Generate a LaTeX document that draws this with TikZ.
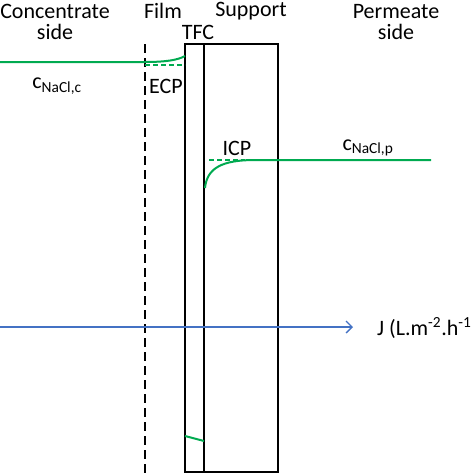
\documentclass[tikz,border=0pt]{standalone}
\usepackage{fontspec}
\setmainfont{Carlito}
\usetikzlibrary{arrows.meta}
\definecolor{lgreen}{RGB}{0,170,80}
\definecolor{lblue}{RGB}{68,114,196}
\tikzset{
  lbl/.style={inner sep=0pt, font=\fontsize{22}{23}\selectfont, align=center},
  wall/.style={draw=black, line width=2pt},
  conc/.style={draw=lgreen, line width=2pt},
  concdash/.style={draw=lgreen, line width=1.2pt, dash pattern=on 5pt off 3pt},
  film/.style={draw=black, line width=2pt, dash pattern=on 9pt off 5pt},
  flux/.style={draw=lblue, line width=1.3pt, -{Straight Barb[length=6pt,width=12pt,line width=1.3pt]}}
}
\begin{document}
\begin{tikzpicture}[x=1pt,y=-1pt]
\useasboundingbox (0,0) rectangle (474,474);
\clip (0,0) rectangle (474,474);
% film boundary
\draw[film] (145,44) -- (145,476);
% membrane boxes
\draw[wall] (185,44) rectangle (278,472);
\draw[wall] (204,44) -- (204,472);
% concentration profiles
\coordinate (cs) at (0,62);
\coordinate (cf) at (145,62);
\coordinate (cm) at (185,56);
\draw[conc] (cs) -- (cf) .. controls (166,62) and (178,60) .. (cm);
\draw[concdash] (145,65) -- (185,65);
\coordinate (ps) at (205,188);
\coordinate (pf) at (255,160);
\coordinate (pe) at (431,160);
\draw[conc] (ps) .. controls (207,168) and (222,160) .. (pf) -- (pe);
\draw[concdash] (209,160) -- (245,160);
\draw[conc] (185,436) -- (204,441);
% flux arrow
\coordinate (fs) at (0,327);
\coordinate (fe) at (353,327);
\draw[flux] (fs) -- (fe);
% labels
\node[lbl] (lconc) at (55,22) {Concentrate\\[-2pt]side};
\node[lbl] (lfilm) at (163,11) {Film};
\node[lbl] (lsup) at (251,11) {Support};
\node[lbl] (lperm) at (396,22) {Permeate\\[-2pt]side};
\node[lbl] (ltfc) at (198,32) {TFC};
\node[lbl] (lecp) at (166,86) {ECP};
\node[lbl] (licp) at (237,148) {ICP};
\node[lbl] (lcc) at (57,86) {c\textsubscript{NaCl,c}};
\node[lbl] (lcp) at (368,148) {c\textsubscript{NaCl,p}};
\node[lbl, anchor=west] (lj) at (377,328) {J (L.m\textsuperscript{-2}.h\textsuperscript{-1}};
\end{tikzpicture}
\end{document}
